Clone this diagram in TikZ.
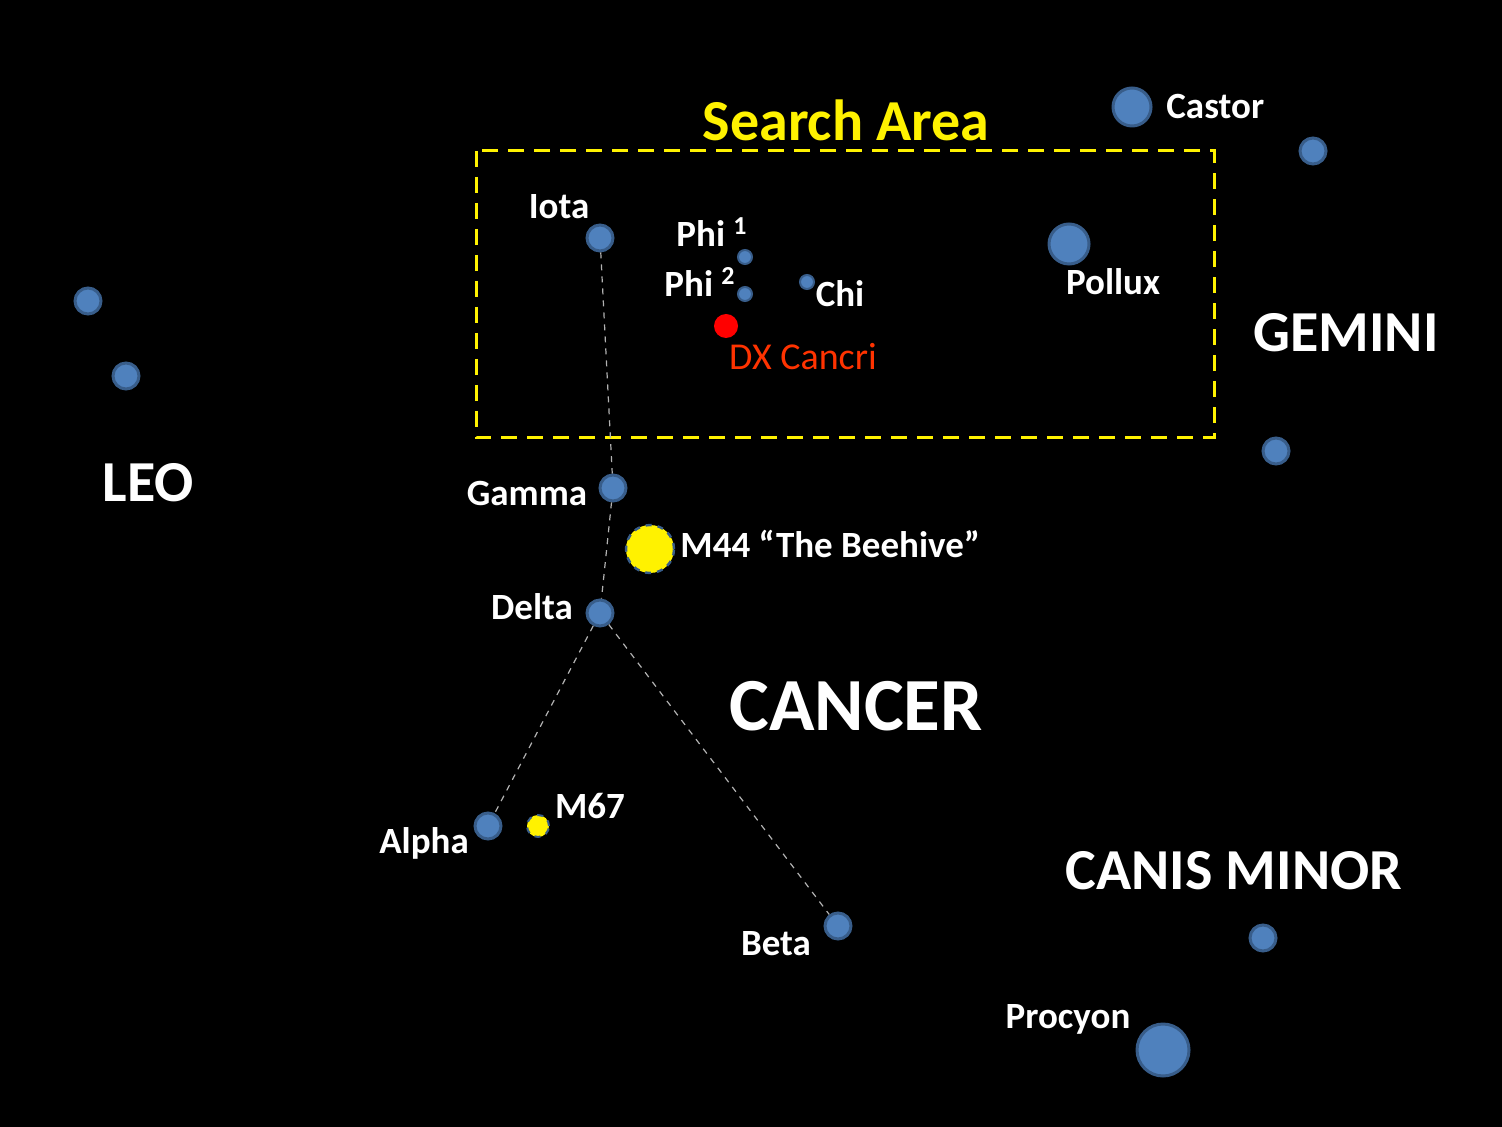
\documentclass[tikz,border=0pt]{standalone}
\usepackage{fontspec}
\setmainfont{Carlito}
\begin{document}
\begin{tikzpicture}[x=0.5pt,y=-0.5pt,
 star/.style={circle,fill=starblue,draw=starborder,line width=1.5pt,inner sep=0pt,minimum size=#1},
 lbl/.style={text=white,font=\bfseries\fontsize{18.5}{20}\selectfont,inner sep=0pt},
 big/.style={text=white,font=\bfseries\fontsize{#1}{#1}\selectfont,inner sep=0pt},
 link/.style={draw=gray!60,dashed,line width=0.6pt}]
\definecolor{starblue}{HTML}{4F81BD}
\definecolor{starborder}{HTML}{385D8A}
\fill[black] (0,0) rectangle (1502,1127);
\useasboundingbox (0,0) rectangle (1502,1127);
\draw[yellow,dashed,line width=1.5pt,dash pattern=on 8pt off 5pt] (476,151) rectangle (1214,438);
\node[star=38*0.5pt] (castor) at (1132,107) {};
\node[star=26*0.5pt] (g2) at (1313,151) {};
\node[star=40*0.5pt] (pollux) at (1069,244) {};
\node[star=26*0.5pt] (g3) at (1276,451) {};
\node[star=26*0.5pt] (cm1) at (1263,938) {};
\node[star=52*0.5pt] (procyon) at (1163,1050) {};
\node[star=26*0.5pt] (iota) at (600,238) {};
\node[star=14*0.5pt,line width=1pt] (phi1) at (745,257) {};
\node[star=14*0.5pt,line width=1pt] (phi2) at (745,294) {};
\node[star=14*0.5pt,line width=1pt] (chi) at (807,282) {};
\node[circle,fill=red,inner sep=0pt,minimum size=12pt] (dx) at (726,326) {};
\node[star=26*0.5pt] (gamma) at (613,488) {};
\node[star=26*0.5pt] (delta) at (600,613) {};
\node[star=26*0.5pt] (alpha) at (488,826) {};
\node[star=26*0.5pt] (beta) at (838,926) {};
\node[star=26*0.5pt] (leo1) at (88,301) {};
\node[star=26*0.5pt] (leo2) at (126,376) {};
\node[circle,fill=yellow,draw=starborder,dashed,line width=1.2pt,inner sep=0pt,minimum size=24pt] (m44) at (650,549) {};
\node[circle,fill=yellow,draw=starborder,dashed,line width=1pt,inner sep=0pt,minimum size=11pt] (m67) at (538,826) {};
\draw[link] (iota) -- (gamma);
\draw[link] (gamma) -- (delta);
\draw[link] (delta) -- (alpha);
\draw[link] (delta) -- (beta);
\node[text=yellow,font=\bfseries\fontsize{29}{29}\selectfont] (sa) at (846,120) {Search Area};
\node[lbl,anchor=west] (tcastor) at (1166,107) {Castor};
\node[lbl] (tiota) at (559,207) {Iota};
\node[lbl] (tphi1) at (712,232) {Phi \textsuperscript{1}};
\node[lbl] (tphi2) at (700,282) {Phi \textsuperscript{2}};
\node[lbl] (tchi) at (840,294) {Chi};
\node[lbl] (tpollux) at (1113,282) {Pollux};
\node[font=\fontsize{19}{20}\selectfont,text={rgb,255:red,255;green,51;blue,0},inner sep=0pt] (tdx) at (803,357) {DX Cancri};
\node[big=29] (tgem) at (1346,333) {GEMINI};
\node[big=29] (tleo) at (148,483) {LEO};
\node[lbl] (tgamma) at (527,494) {Gamma};
\node[lbl,anchor=west] (tm44) at (680,544) {M44 “The Beehive”};
\node[lbl] (tdelta) at (532,607) {Delta};
\node[big=37.5] (tcancer) at (856,706) {CANCER};
\node[lbl] (tm67) at (590,806) {M67};
\node[lbl] (talpha) at (424,843) {Alpha};
\node[lbl] (tbeta) at (776,944) {Beta};
\node[big=29] (tcm) at (1234,871) {CANIS MINOR};
\node[lbl] (tproc) at (1068,1019) {Procyon};
\end{tikzpicture}
\end{document}
